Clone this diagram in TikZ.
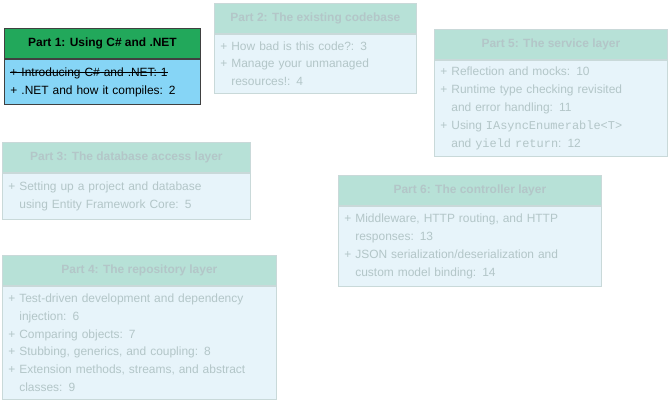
\documentclass[tikz,border=0pt]{standalone}
\usepackage{fontspec}
\setmainfont{Liberation Sans}
\setmonofont{Liberation Mono}
\usetikzlibrary{positioning}
\definecolor{hdrgreen}{HTML}{22A85B}
\definecolor{bdyblue}{HTML}{86D5F6}
\definecolor{fadehdr}{HTML}{B7E1D7}
\definecolor{fadebdy}{HTML}{E7F4FA}
\definecolor{fadeline}{HTML}{C9D9D9}
\definecolor{fadetext}{HTML}{B3C6C8}
\newcommand{\cont}{\phantom{+ }}
\newsavebox{\strikebox}
\newcommand{\strikeout}[1]{\sbox{\strikebox}{#1}\rlap{\rule[0.3em]{\wd\strikebox}{0.7pt}}\usebox{\strikebox}}
\tikzset{
  hdr/.style = {draw, rectangle, anchor=north west, minimum height=30bp,
                inner sep=0pt, font=\fontsize{12}{14}\selectfont\bfseries},
  bdy/.style = {draw, rectangle, anchor=north, align=left, inner xsep=6bp,
                inner ysep=5bp, font=\fontsize{12}{18}\selectfont},
  active/.style = {draw=black!75, line width=1pt},
  faded/.style = {draw=fadeline, line width=0.8pt, text=fadetext}
}
\begin{document}
\begin{tikzpicture}[x=1bp, y=-1bp]
  \useasboundingbox (0,0) rectangle (669,400);
  % Part 1
  \node[hdr, active, fill=hdrgreen, minimum width=196bp] (p1) at (4,28) {Part 1: Using C\# and .NET};
  \node[bdy, active, fill=bdyblue, text width=184bp, minimum height=45bp, below=0pt of p1] (p1b)
    {\strikeout{+ Introducing C\# and .NET: 1}\\+ .NET and how it compiles: 2};
  % Part 2
  \node[hdr, faded, fill=fadehdr, minimum width=202bp] (p2) at (214,3) {Part 2: The existing codebase};
  \node[bdy, faded, fill=fadebdy, text width=190bp, minimum height=59bp, below=0pt of p2] (p2b)
    {+ How bad is this code?: 3\\+ Manage your unmanaged\\\cont resources!: 4};
  % Part 5
  \node[hdr, faded, fill=fadehdr, minimum width=233bp] (p5) at (434,29) {Part 5: The service layer};
  \node[bdy, faded, fill=fadebdy, text width=221bp, minimum height=96bp, below=0pt of p5] (p5b)
    {+ Reflection and mocks: 10\\+ Runtime type checking revisited\\\cont and error handling: 11\\
     + Using \texttt{IAsyncEnumerable<T>}\\\cont and \texttt{yield return}: 12};
  % Part 3
  \node[hdr, faded, fill=fadehdr, minimum width=248bp] (p3) at (2,142) {Part 3: The database access layer};
  \node[bdy, faded, fill=fadebdy, text width=236bp, minimum height=46bp, below=0pt of p3] (p3b)
    {+ Setting up a project and database\\\cont using Entity Framework Core: 5};
  % Part 6
  \node[hdr, faded, fill=fadehdr, minimum width=263bp] (p6) at (338,175) {Part 6: The controller layer};
  \node[bdy, faded, fill=fadebdy, text width=251bp, minimum height=80bp, below=0pt of p6] (p6b)
    {+ Middleware, HTTP routing, and HTTP\\\cont responses: 13\\+ JSON serialization/deserialization and\\\cont custom model binding: 14};
  % Part 4
  \node[hdr, faded, fill=fadehdr, minimum width=274bp] (p4) at (2,255) {Part 4: The repository layer};
  \node[bdy, faded, fill=fadebdy, text width=262bp, minimum height=113bp, below=0pt of p4] (p4b)
    {+ Test-driven development and dependency\\\cont injection: 6\\+ Comparing objects: 7\\
     + Stubbing, generics, and coupling: 8\\+ Extension methods, streams, and abstract\\\cont classes: 9};
\end{tikzpicture}
\end{document}
